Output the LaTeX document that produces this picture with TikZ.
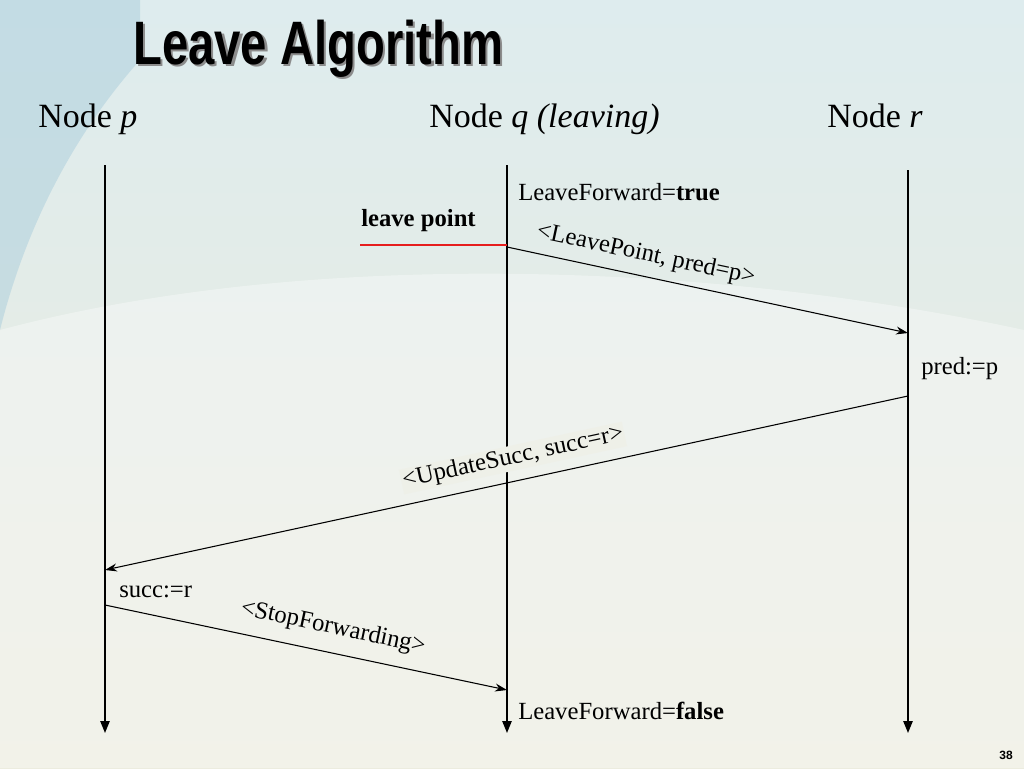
\documentclass[tikz,border=0pt]{standalone}
\usepackage{fontspec}
\setmainfont{Liberation Serif}
\newfontfamily\titlefont{Liberation Sans}
\usetikzlibrary{arrows.meta}
\definecolor{bgtop}{RGB}{222,236,238}
\definecolor{bgbot}{RGB}{236,236,222}
\definecolor{bgblue}{RGB}{170,205,220}
\definecolor{bgmid}{RGB}{238,240,232}
\definecolor{redline}{RGB}{230,30,30}
\tikzset{
  life/.style={line width=1.2pt,-{Triangle[width=7pt,length=9pt]}},
  msg/.style={line width=0.8pt,-{Stealth[width=6pt,length=9pt]}},
  hdr/.style={font=\fontsize{25.5}{30}\selectfont,anchor=base west,inner sep=0},
  lbl/.style={font=\fontsize{18.5}{22}\selectfont,anchor=base west,inner sep=0},
  mlbl/.style={font=\fontsize{18.5}{22}\selectfont,inner sep=1pt}
}
\begin{document}
\begin{tikzpicture}[x=0.75pt,y=-0.75pt]
\useasboundingbox (0,0) rectangle (1024,768);
\shade[top color=bgtop,bottom color=bgbot] (0,0) rectangle (1024,768);
\fill[bgblue,opacity=0.5] (0,0) -- (0,330) .. controls (20,250) and (60,150) .. (140,60) -- (140,0) -- cycle;
\fill[white,opacity=0.35] (0,330) .. controls (300,250) and (700,260) .. (1024,330) -- (1024,768) -- (0,768) -- cycle;
% title
\node[font=\titlefont\bfseries\fontsize{46}{50}\selectfont,xscale=0.77,anchor=base west,inner sep=0,black!45] at (135.5,66.5) {Leave Algorithm};
\node[font=\titlefont\bfseries\fontsize{46}{50}\selectfont,xscale=0.77,anchor=base west,inner sep=0] (title) at (133,64) {Leave Algorithm};
% headers
\node[hdr] (hp) at (38,127) {Node \textit{p}};
\node[hdr] (hq) at (429,127) {Node \textit{q (leaving)}};
\node[hdr] (hr) at (827,127) {Node \textit{r}};
% lifelines
\coordinate (p0) at (105,165); \coordinate (p1) at (105,733);
\coordinate (q0) at (507,165); \coordinate (q1) at (507,733);
\coordinate (r0) at (908,170); \coordinate (r1) at (908,733);
\draw[life] (p0) -- (p1);
\draw[life] (q0) -- (q1);
\draw[life] (r0) -- (r1);
% leave point
\coordinate (lp0) at (360,245); \coordinate (lp1) at (507,245);
\draw[redline,line width=1.5pt] (lp0) -- (lp1);
\node[lbl,font=\bfseries\fontsize{18.5}{22}\selectfont] (lpt) at (361,226) {leave point};
\node[lbl] (lf1) at (518,200) {LeaveForward=\textbf{true}};
% message 1
\coordinate (m1a) at (507,247); \coordinate (m1b) at (908,333);
\draw[msg] (m1a) -- (m1b);
\node[mlbl,rotate=-12.1] (l1) at (646,255) {<LeavePoint, pred=p>};
\node[lbl] (pr) at (921,374) {pred:=p};
% message 2
\coordinate (m2a) at (908,396); \coordinate (m2b) at (105,570);
\draw[msg] (m2a) -- (m2b);
\node[mlbl,rotate=12.2,fill=bgmid] (l2) at (513,458) {<UpdateSucc, succ=r>};
\node[lbl] (sr) at (119,597) {succ:=r};
% message 3
\coordinate (m3a) at (105,605); \coordinate (m3b) at (507,690);
\draw[msg] (m3a) -- (m3b);
\node[mlbl,rotate=-12] (l3) at (333,628) {<StopForwarding>};
\node[lbl] (lf2) at (518,719) {LeaveForward=\textbf{false}};
\node[font=\titlefont\bfseries\fontsize{9}{10}\selectfont,inner sep=0] (pg) at (1006,755) {38};
\end{tikzpicture}
\end{document}
